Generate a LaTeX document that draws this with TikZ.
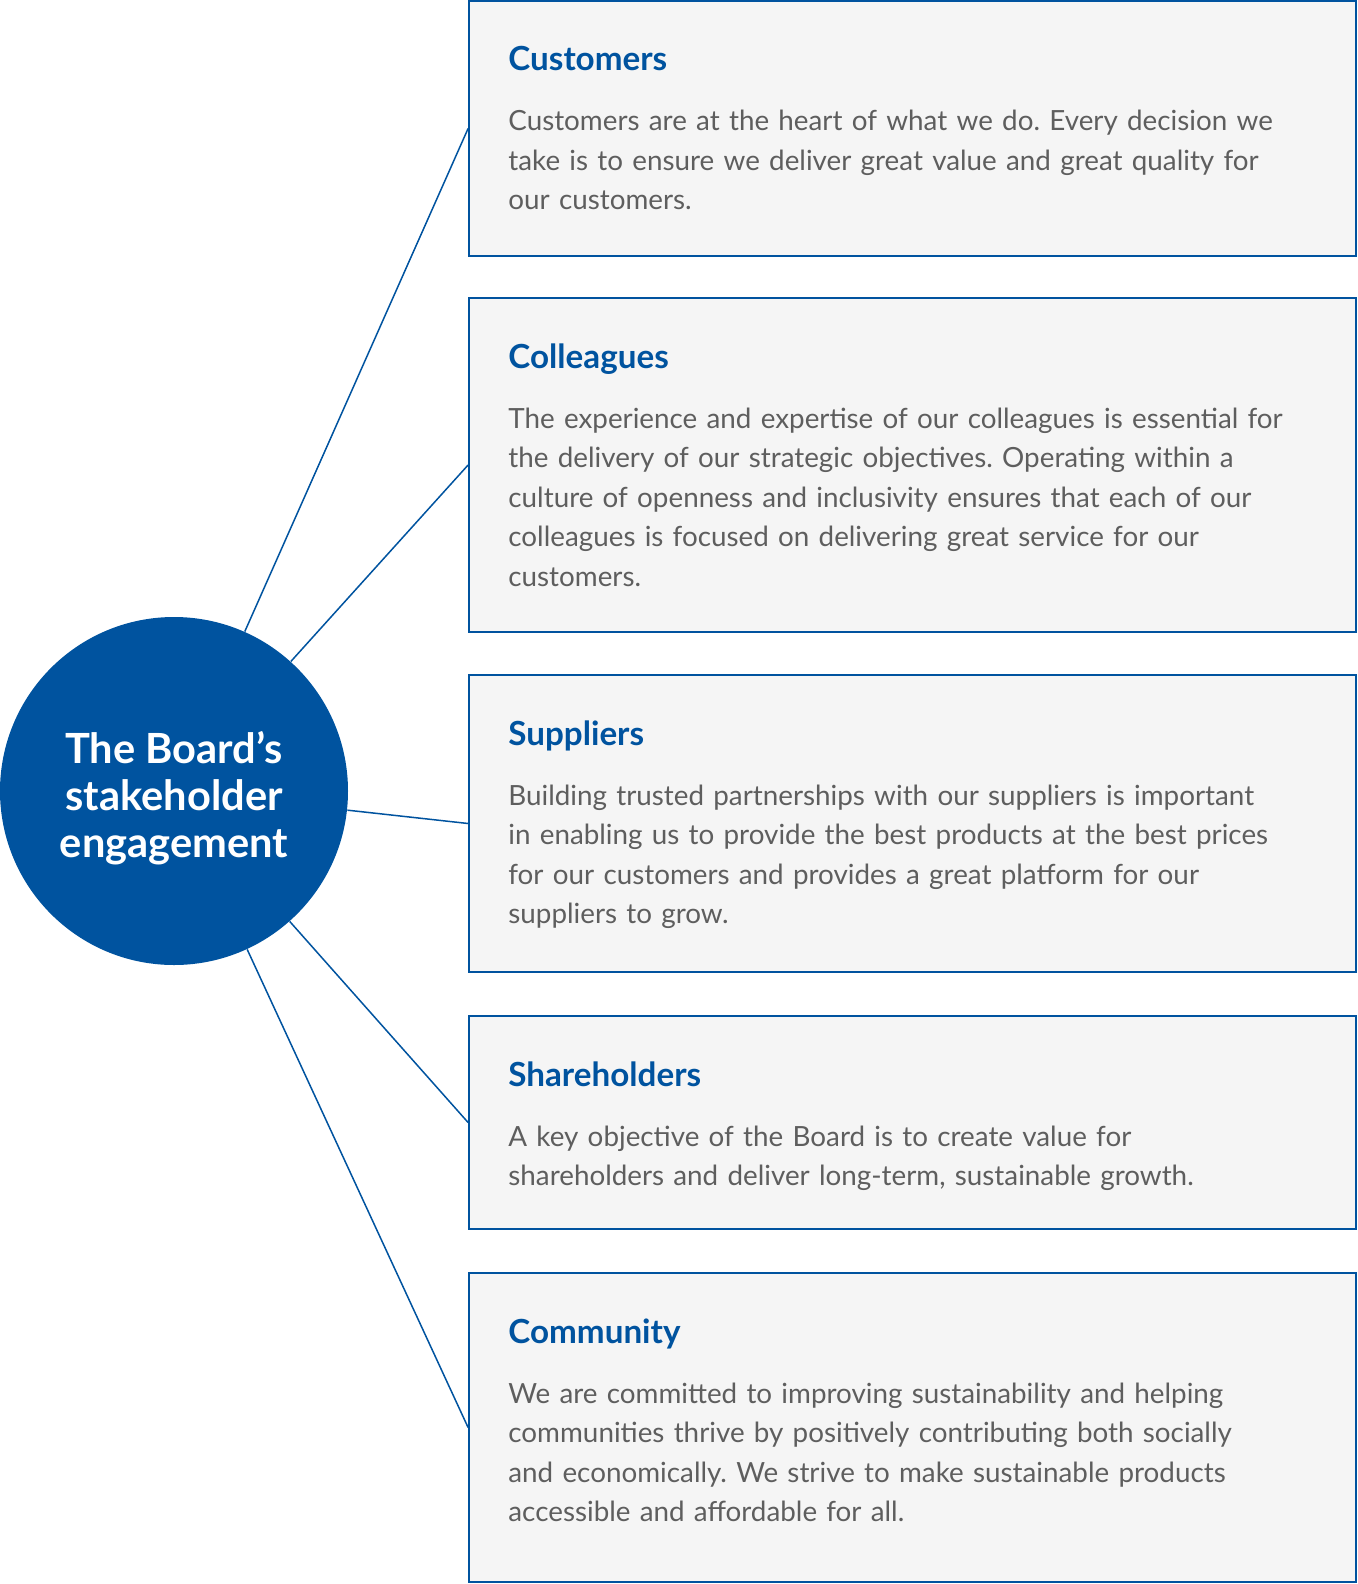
\documentclass[tikz,border=0pt]{standalone}
\usepackage{fontspec}
\setmainfont{Lato}
\usetikzlibrary{positioning}
\definecolor{boardblue}{HTML}{00539F}
\definecolor{cardgrey}{HTML}{F5F5F5}
\definecolor{bodygrey}{HTML}{5E5E5E}
\frenchspacing
\begin{document}
\begin{tikzpicture}[x=0.5pt,y=-0.5pt,
  card/.style={draw=boardblue,line width=0.9pt,fill=cardgrey,minimum width=443.5pt,inner sep=0pt},
  hub/.style={circle,fill=boardblue,minimum size=174pt,inner sep=0pt},
  hubtext/.style={text=white,inner sep=0pt,align=center,font=\bfseries\fontsize{20.8}{23.5}\selectfont},
  title/.style={anchor=base west,inner sep=0pt,text=boardblue,font=\bfseries\fontsize{16.6}{18}\selectfont},
  blurb/.style={anchor=base west,inner sep=0pt,text=bodygrey,text width=420pt,align=left,
    font=\fontsize{13.9}{19.75}\selectfont},
  link/.style={draw=boardblue,line width=0.75pt}]
\useasboundingbox (0,0) rectangle (1358,1584);
\node[hub] (board) at (174,791) {};
\node[hubtext] (boardText) at (174,798) {The Board’s\\stakeholder\\engagement};
\node[card,minimum height=127.5pt] (customers) at (912.5,128.5) {};
\node[card,minimum height=167pt] (colleagues) at (912.5,465) {};
\node[card,minimum height=148.5pt] (suppliers) at (912.5,823.5) {};
\node[card,minimum height=106.5pt] (shareholders) at (912.5,1122.5) {};
\node[card,minimum height=154.5pt] (community) at (912.5,1427.5) {};
\node[title] (customersTitle) at (508,71) {Customers};
\node[blurb] (customersText) at (508,131) {Customers are at the heart of what we do. Every decision we\\take is to ensure we deliver great value and great quality for\\our customers.};
\node[title] (colleaguesTitle) at (508,368) {Colleagues};
\node[blurb] (colleaguesText) at (508,428) {The experience and expertise of our colleagues is essential for\\the delivery of our strategic objectives. Operating within a\\culture of openness and inclusivity ensures that each of our\\colleagues is focused on delivering great service for our\\customers.};
\node[title] (suppliersTitle) at (508,745) {Suppliers};
\node[blurb] (suppliersText) at (508,805) {Building trusted partnerships with our suppliers is important\\in enabling us to provide the best products at the best prices\\for our customers and provides a great platform for our\\suppliers to grow.};
\node[title] (shareholdersTitle) at (508,1086) {Shareholders};
\node[blurb] (shareholdersText) at (508,1146) {A key objective of the Board is to create value for\\shareholders and deliver long-term, sustainable growth.};
\node[title] (communityTitle) at (508,1343) {Community};
\node[blurb] (communityText) at (508,1403) {We are committed to improving sustainability and helping\\communities thrive by positively contributing both socially\\and economically. We strive to make sustainable products\\accessible and affordable for all.};
\draw[link] (board) -- (customers.west);
\draw[link] (board) -- (colleagues.west);
\draw[link] (board) -- (suppliers.west);
\draw[link] (board) -- (shareholders.west);
\draw[link] (board) -- (community.west);
\end{tikzpicture}
\end{document}
